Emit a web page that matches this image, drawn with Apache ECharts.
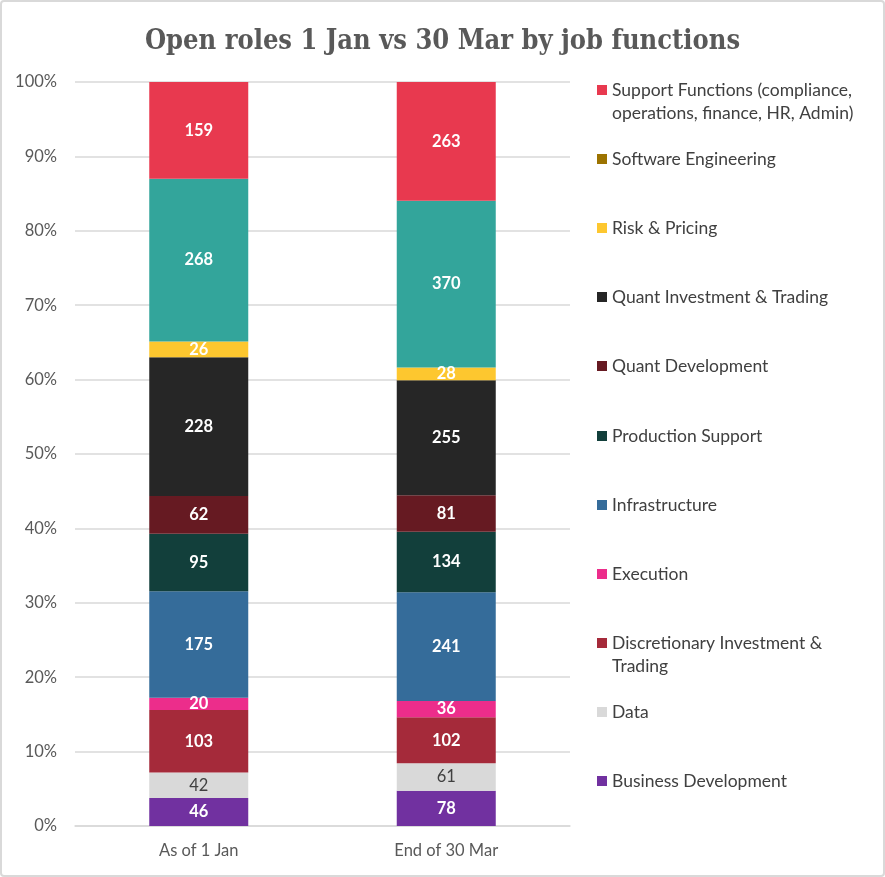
<!DOCTYPE html>
<html>
<head>
<meta charset="utf-8">
<script src="https://cdn.jsdelivr.net/npm/echarts@6/dist/echarts.min.js"></script>
<style>
  html, body { margin: 0; padding: 0; background: #fff; }
  #wrap { position: relative; width: 885px; height: 877px; }
  #chart { width: 885px; height: 877px; }
  #frame { position: absolute; left: 0; top: 0; width: 881px; height: 873px; border: 2px solid #D9D9D9; border-radius: 4px; pointer-events: none; }
</style>
</head>
<body>
<div id="wrap"><div id="chart"></div><div id="frame"></div></div>
<script>
const categories = ['As of 1 Jan', 'End of 30 Mar'];

// series, bottom to top
const businessDevelopment = [46, 78];
const dataRoles = [42, 61];
const discretionaryInvestmentTrading = [103, 102];
const execution = [20, 36];
const infrastructure = [175, 241];
const productionSupport = [95, 134];
const quantDevelopment = [62, 81];
const quantInvestmentTrading = [228, 255];
const riskPricing = [26, 28];
const softwareEngineering = [268, 370];
const supportFunctions = [159, 263];

const yTicks = [0, 10, 20, 30, 40, 50, 60, 70, 80, 90, 100];

const seriesDefs = [
  { name: 'Business Development', values: businessDevelopment, color: '#7131A0' },
  { name: 'Data', values: dataRoles, color: '#D9D9D9', dark: true },
  { name: 'Discretionary Investment & Trading', values: discretionaryInvestmentTrading, color: '#A52A3A', label2: 'Discretionary Investment &\nTrading' },
  { name: 'Execution', values: execution, color: '#EC2D8B' },
  { name: 'Infrastructure', values: infrastructure, color: '#356C9A' },
  { name: 'Production Support', values: productionSupport, color: '#123F3B' },
  { name: 'Quant Development', values: quantDevelopment, color: '#661A22' },
  { name: 'Quant Investment & Trading', values: quantInvestmentTrading, color: '#262626' },
  { name: 'Risk & Pricing', values: riskPricing, color: '#FDC72F' },
  { name: 'Software Engineering', values: softwareEngineering, color: '#33A59B', legendColor: '#9C7300' },
  { name: 'Support Functions (compliance, operations, finance, HR, Admin)', values: supportFunctions, color: '#E8394F', label2: 'Support Functions (compliance,\noperations, finance, HR, Admin)' }
];

const totals = categories.map((c, i) => seriesDefs.reduce((s, d) => s + d.values[i], 0));

const FONT = 'Lato, "Open Sans", sans-serif';

const series = seriesDefs.map(d => ({
  name: d.name,
  type: 'bar',
  stack: 'total',
  barWidth: '40%',
  itemStyle: { color: d.color },
  data: d.values.map((v, i) => v / totals[i] * 100),
  label: {
    show: true,
    position: 'inside',
    fontFamily: FONT,
    fontSize: 16.5,
    fontWeight: d.dark ? 'normal' : 'bold',
    color: d.dark ? '#404040' : '#FFFFFF',
    formatter: p => String(d.values[p.dataIndex])
  },
  emphasis: { disabled: true }
}));

// legend positions (marker center y), top to bottom
const legendCenters = [90, 159, 228, 297, 366, 436, 505, 574, 643, 712, 781];
const legendOrder = seriesDefs.slice().reverse();
const LH = 23;
const legends = legendOrder.map((d, k) => {
  const twoLine = !!d.label2;
  return {
    left: 597,
    top: legendCenters[k] - (twoLine ? LH * 1.5 : LH / 2),
    padding: 0,
    orient: 'vertical',
    itemWidth: 10,
    itemHeight: 10,
    itemGap: 0,
    selectedMode: false,
    icon: 'rect',
    data: [{ name: d.name, itemStyle: { color: d.legendColor || d.color } }],
    // leading empty line keeps the marker beside the first text line
    formatter: () => (twoLine ? '\n' + d.label2 : d.name),
    textStyle: {
      fontFamily: FONT,
      fontSize: 17.5,
      color: '#404040',
      lineHeight: LH
    }
  };
});

const chart = echarts.init(document.getElementById('chart'), null, { renderer: 'canvas' });
chart.setOption({
  animation: false,
  backgroundColor: '#FFFFFF',
  title: {
    text: 'Open roles 1 Jan vs 30 Mar by job functions',
    left: 'center',
    top: 23,
    textStyle: {
      fontFamily: '"DejaVu Serif Condensed", "DejaVu Serif", serif',
      fontWeight: 'bold',
      fontSize: 27,
      color: '#595959'
    }
  },
  legend: legends,
  grid: { left: 75, right: 315, top: 82, bottom: 51, containLabel: false },
  xAxis: {
    type: 'category',
    data: categories,
    axisLine: { show: true, lineStyle: { color: '#D9D9D9', width: 1.5 } },
    axisTick: { show: false },
    axisLabel: { fontFamily: FONT, fontSize: 16.5, color: '#595959', margin: 16 }
  },
  yAxis: {
    type: 'value',
    min: yTicks[0],
    max: yTicks[yTicks.length - 1],
    interval: yTicks[1] - yTicks[0],
    axisLine: { show: false },
    axisTick: { show: false },
    splitLine: { lineStyle: { color: '#D9D9D9', width: 1.5 } },
    axisLabel: { fontFamily: FONT, fontSize: 16.5, color: '#595959', margin: 18, formatter: '{value}%' }
  },
  series: series
});
</script>
</body>
</html>
